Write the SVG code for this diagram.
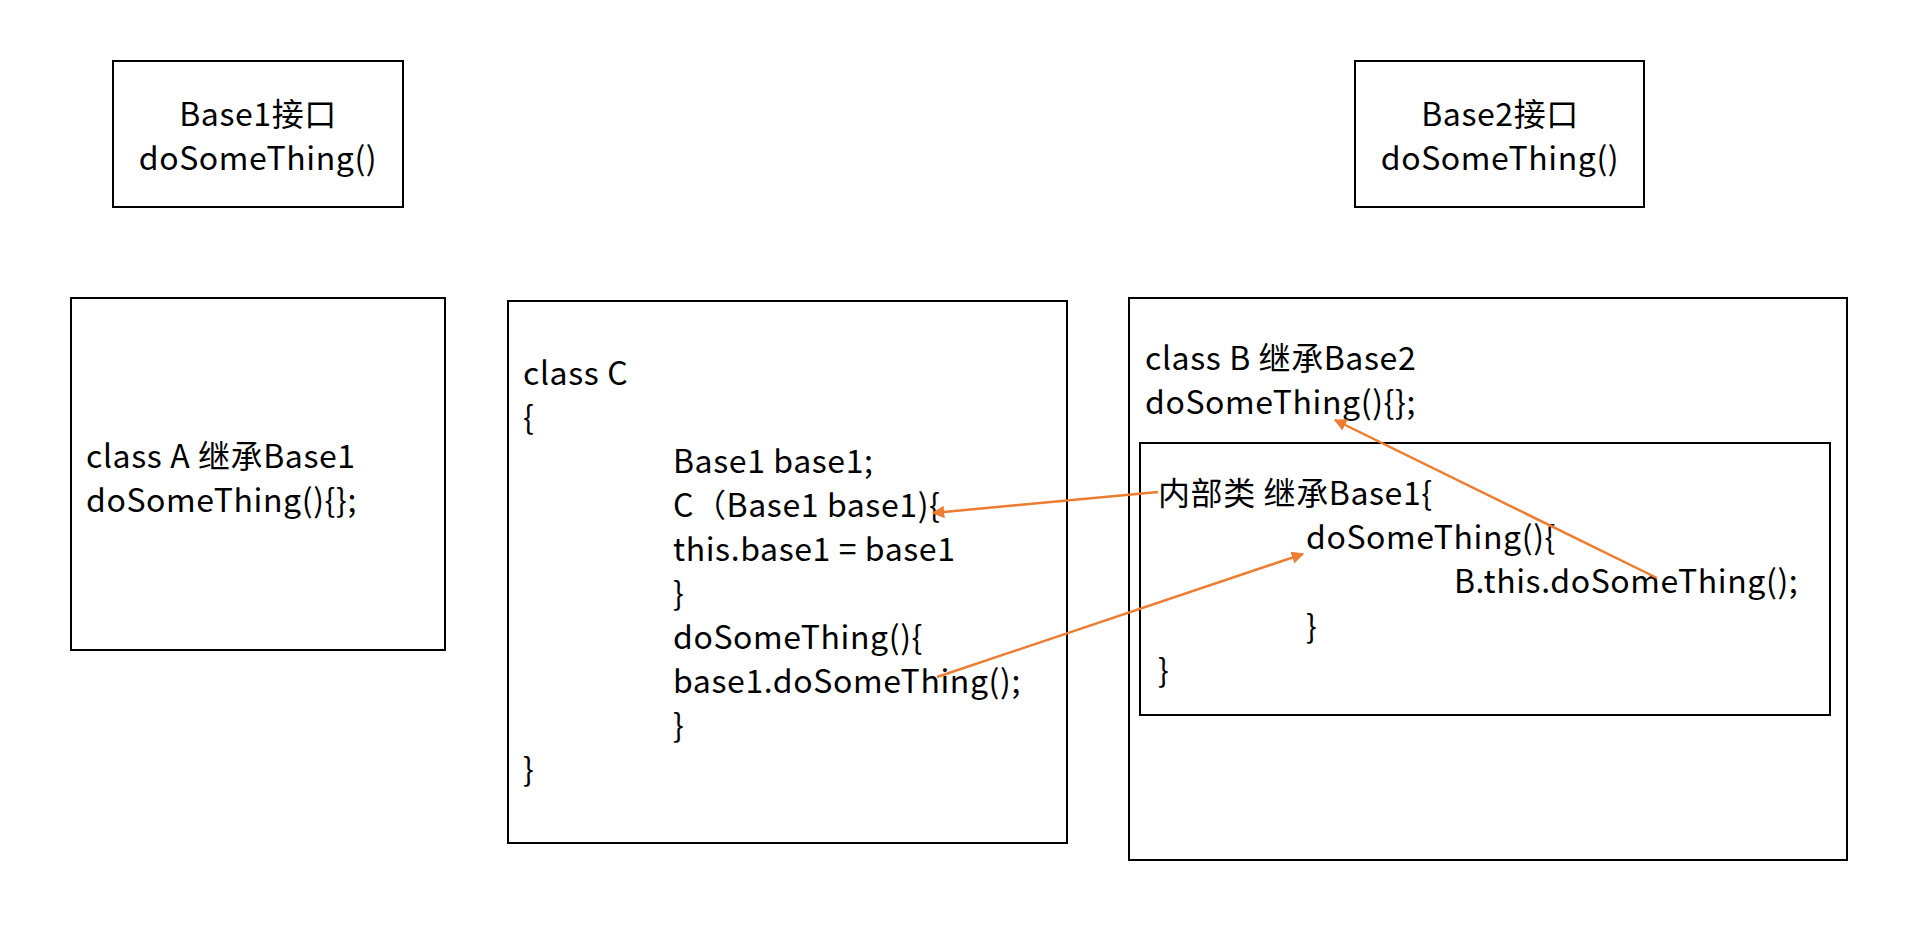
<svg xmlns="http://www.w3.org/2000/svg" width="1921" height="951" viewBox="0 0 1921 951">
<style>
rect{fill:#fff;stroke:#000;stroke-width:2}
text{font-family:"Noto Sans CJK SC","Noto Sans",sans-serif;font-size:32px;letter-spacing:0.6px;fill:#000}
.c{text-anchor:middle}
.a{stroke:#ED7D31;stroke-width:2.5;fill:none;marker-end:url(#ah)}
</style>
<defs><marker id="ah" viewBox="0 0 10 10" refX="9" refY="5" markerWidth="5" markerHeight="5" orient="auto"><path d="M0,0L10,5L0,10z" fill="#ED7D31"/></marker></defs>
<rect width="1921" height="951" style="stroke:none"/>
<g id="base1"><rect x="113" y="61" width="290" height="146"/><text class="c" x="258" y="126">Base1接口</text><text class="c" x="258" y="170">doSomeThing()</text></g>
<g id="base2"><rect x="1355" y="61" width="289" height="146"/><text class="c" x="1500" y="126">Base2接口</text><text class="c" x="1500" y="170">doSomeThing()</text></g>
<g id="classA"><rect x="71" y="298" width="374" height="352"/><text x="86" y="468">class A 继承Base1</text><text x="86" y="512">doSomeThing(){};</text></g>
<g id="classC"><rect x="508" y="301" width="559" height="542"/>
<text x="523" y="385">class C</text><text x="523" y="429">{</text>
<text x="673" y="473">Base1 base1;</text><text x="673" y="517">C（Base1 base1){</text><text x="673" y="561">this.base1 = base1</text><text x="673" y="605">}</text><text x="673" y="649">doSomeThing(){</text><text x="673" y="693">base1.doSomeThing();</text><text x="673" y="737">}</text>
<text x="523" y="781">}</text></g>
<g id="classB"><rect x="1129" y="298" width="718" height="562"/><text x="1145" y="370">class B 继承Base2</text><text x="1145" y="414">doSomeThing(){};</text></g>
<g id="inner"><rect x="1140" y="443" width="690" height="272"/>
<text x="1158" y="505">内部类 继承Base1{</text><text x="1306" y="549">doSomeThing(){</text><text x="1454" y="593">B.this.doSomeThing();</text><text x="1306" y="638">}</text><text x="1158" y="682">}</text></g>
<g id="connectors">
<line class="a" x1="1158" y1="492" x2="933" y2="513"/>
<line class="a" x1="937" y1="677" x2="1303" y2="554"/>
<line class="a" x1="1657" y1="578" x2="1335" y2="420"/>
</g>
</svg>
